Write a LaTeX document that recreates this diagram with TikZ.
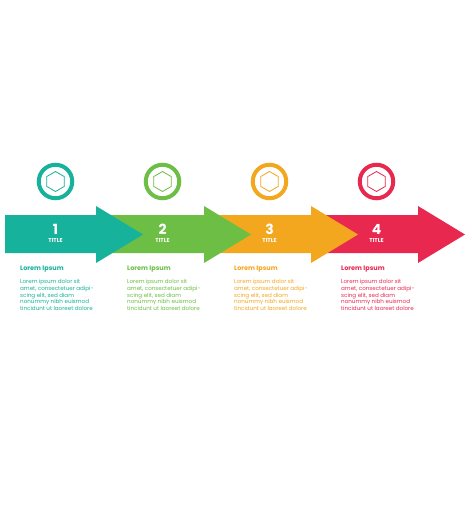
\documentclass[tikz,border=0pt]{standalone}
\usepackage{fontspec}
\setmainfont{Poppins}
\usetikzlibrary{shapes.geometric}
\definecolor{tealc}{HTML}{16B29B}
\definecolor{greenc}{HTML}{6CBE45}
\definecolor{orangec}{HTML}{F3A71E}
\definecolor{redc}{HTML}{E92850}
\begin{document}
\begin{tikzpicture}[x=1pt, y=-1pt,
        ring/.style = {circle, draw, line width=4pt, minimum size=33.5pt, inner sep=0pt},
        hexa/.style = {regular polygon, regular polygon sides=6, rotate=30, draw, line width=0.8pt, minimum size=20pt, inner sep=0pt},
        num/.style = {text=white, inner sep=0pt, font=\bfseries\fontsize{14}{14}\selectfont},
        ttl/.style = {text=white, inner sep=0pt, font=\bfseries\fontsize{5.7}{6}\selectfont},
        head/.style = {anchor=west, inner sep=0pt, font=\bfseries\fontsize{6.5}{7}\selectfont},
        body/.style = {anchor=north west, align=left, inner sep=0pt, font=\fontsize{5.6}{6.65}\selectfont}
        ]
    \fill[white] (0,0) rectangle (474,505);
    \useasboundingbox (0,0) rectangle (474,505);

    % arrows, last one first so each head lies over the next shaft
    \fill[redc] (311,215) -- (418,215) -- (418,206) -- (465,234.5) -- (418,263) -- (418,253) -- (311,253) -- cycle;
    \fill[orangec] (204,215) -- (311,215) -- (311,206) -- (358,234.5) -- (311,263) -- (311,253) -- (204,253) -- cycle;
    \fill[greenc] (97,215) -- (204,215) -- (204,206) -- (251,234.5) -- (204,263) -- (204,253) -- (97,253) -- cycle;
    \fill[tealc] (5,215) -- (96,215) -- (96,206) -- (143,234.5) -- (96,263) -- (96,253) -- (5,253) -- cycle;

    % rings with hexagons
    \node[ring, draw=tealc] (c1) at (55.5,181.5) {};
    \node[hexa, draw=tealc] (h1) at (c1) {};
    \node[ring, draw=greenc] (c2) at (162.5,181.5) {};
    \node[hexa, draw=greenc] (h2) at (c2) {};
    \node[ring, draw=orangec] (c3) at (269.5,181.5) {};
    \node[hexa, draw=orangec] (h3) at (c3) {};
    \node[ring, draw=redc] (c4) at (376.5,181.5) {};
    \node[hexa, draw=redc] (h4) at (c4) {};

    % step numbers
    \node[num] (n1) at (55.5,229.5) {1};
    \node[ttl] (t1) at (55.5,240.3) {TITLE};
    \node[num] (n2) at (162.5,229.5) {2};
    \node[ttl] (t2) at (162.5,240.3) {TITLE};
    \node[num] (n3) at (269.5,229.5) {3};
    \node[ttl] (t3) at (269.5,240.3) {TITLE};
    \node[num] (n4) at (376.5,229.5) {4};
    \node[ttl] (t4) at (376.5,240.3) {TITLE};

    % text blocks
    \node[head, text=tealc] (l1) at (20,269.5) {Lorem Ipsum};
    \node[body, text=tealc] (b1) at (20,279.5) {Lorem ipsum dolor sit\\amet, consectetuer adipi-\\scing elit, sed diam\\nonummy nibh euismod\\tincidunt ut laoreet dolore};
    \node[head, text=greenc] (l2) at (127,269.5) {Lorem Ipsum};
    \node[body, text=greenc] (b2) at (127,279.5) {Lorem ipsum dolor sit\\amet, consectetuer adipi-\\scing elit, sed diam\\nonummy nibh euismod\\tincidunt ut laoreet dolore};
    \node[head, text=orangec] (l3) at (234,269.5) {Lorem Ipsum};
    \node[body, text=orangec] (b3) at (234,279.5) {Lorem ipsum dolor sit\\amet, consectetuer adipi-\\scing elit, sed diam\\nonummy nibh euismod\\tincidunt ut laoreet dolore};
    \node[head, text=redc] (l4) at (341,269.5) {Lorem Ipsum};
    \node[body, text=redc] (b4) at (341,279.5) {Lorem ipsum dolor sit\\amet, consectetuer adipi-\\scing elit, sed diam\\nonummy nibh euismod\\tincidunt ut laoreet dolore};
\end{tikzpicture}
\end{document}
